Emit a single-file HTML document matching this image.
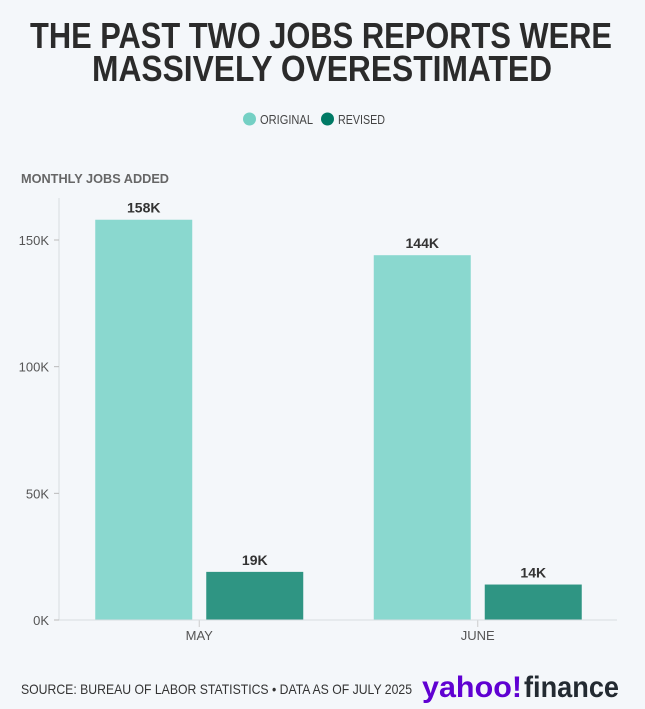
<!DOCTYPE html>
<html><head><meta charset="utf-8"><style>
html,body{margin:0;padding:0;background:#f4f7fa;}
svg{display:block;font-family:"Liberation Sans",sans-serif;}
</style></head><body>
<svg width="645" height="709" viewBox="0 0 645 709">
<rect width="645" height="709" fill="#f4f7fa"/>
<g font-weight="bold" fill="#2b2b2b" font-size="36" text-anchor="middle">
<text x="321" y="48" textLength="582" lengthAdjust="spacingAndGlyphs">THE PAST TWO JOBS REPORTS WERE</text>
<text x="322" y="81" textLength="460" lengthAdjust="spacingAndGlyphs">MASSIVELY OVERESTIMATED</text>
</g>
<g font-size="13" fill="#444">
<g><circle cx="249.5" cy="119" r="6.5" fill="#74d0c4"/><text x="260" y="124" textLength="53" lengthAdjust="spacingAndGlyphs">ORIGINAL</text></g>
<g><circle cx="327.5" cy="119" r="6.5" fill="#007a65"/><text x="338" y="124" textLength="47" lengthAdjust="spacingAndGlyphs">REVISED</text></g>
</g>
<text x="21" y="183" font-size="13" font-weight="bold" fill="#666" textLength="148" lengthAdjust="spacingAndGlyphs">MONTHLY JOBS ADDED</text>
<g id="plot"></g>
<text x="21" y="694" font-size="14" fill="#333" textLength="391" lengthAdjust="spacingAndGlyphs">SOURCE: BUREAU OF LABOR STATISTICS • DATA AS OF JULY 2025</text>
<g font-weight="bold" font-size="30">
<text x="422" y="697" fill="#6001d2" textLength="100" lengthAdjust="spacingAndGlyphs">yahoo!</text>
<text x="524" y="697" fill="#232a31" textLength="95" lengthAdjust="spacingAndGlyphs">finance</text>
</g>
</svg>
<script>
const categories=["MAY","JUNE"];
const originalValues=[158,144];
const revisedValues=[19,14];
const yTicks=[0,50,100,150];
const yTickLabels=["0K","50K","100K","150K"];
const ns="http://www.w3.org/2000/svg";
const plot=document.getElementById('plot');
const x0=60,x1=617,y0=620,yTop=198;
const y=v=>y0-v*(380/150);
const groupW=(x1-x0)/categories.length;
const cx=i=>x0+groupW*(i+0.5);
function mk(t,a){const e=document.createElementNS(ns,t);for(const k in a)e.setAttribute(k,a[k]);plot.appendChild(e);return e;}
let e=mk('line',{x1:x0-1,y1:yTop,x2:x0-1,y2:y0,stroke:'#d8dce0'});


yTicks.forEach((t,i)=>{
 let tk=mk('line',{x1:x0-6,y1:y(t),x2:x0-1,y2:y(t),stroke:'#bbb'});
 
 
 let l=mk('text',{x:x0-11,y:y(t)+5,'text-anchor':'end','font-size':'13',fill:'#555'});
 l.textContent=yTickLabels[i];
 
 
});
const bw=97;
categories.forEach((c,i)=>{
 const m=cx(i);
 let b1=mk('rect',{x:m-104,y:y(originalValues[i]),width:bw,height:y0-y(originalValues[i]),fill:'#8ad8cf'});
 
 
 let b2=mk('rect',{x:m+7,y:y(revisedValues[i]),width:bw,height:y0-y(revisedValues[i]),fill:'#2f9583'});
 
 
 [[m-104,originalValues[i]],[m+7,revisedValues[i]]].forEach(([bx,v])=>{
  let t=mk('text',{x:bx+bw/2,y:y(v)-7,'text-anchor':'middle','font-size':'14','font-weight':'bold',fill:'#333'});
  t.textContent=v+'K';
  
  
 });
 let tk=mk('line',{x1:m,y1:y0,x2:m,y2:y0+7,stroke:'#ccc'});
 
 
 let l=mk('text',{x:m,y:y0+20,'text-anchor':'middle','font-size':'13',fill:'#555'});
 l.textContent=c;
 
 
});
e=mk('line',{x1:x0-1,y1:y0,x2:x1,y2:y0,stroke:'#d8dce0'});


</script>
</body></html>
